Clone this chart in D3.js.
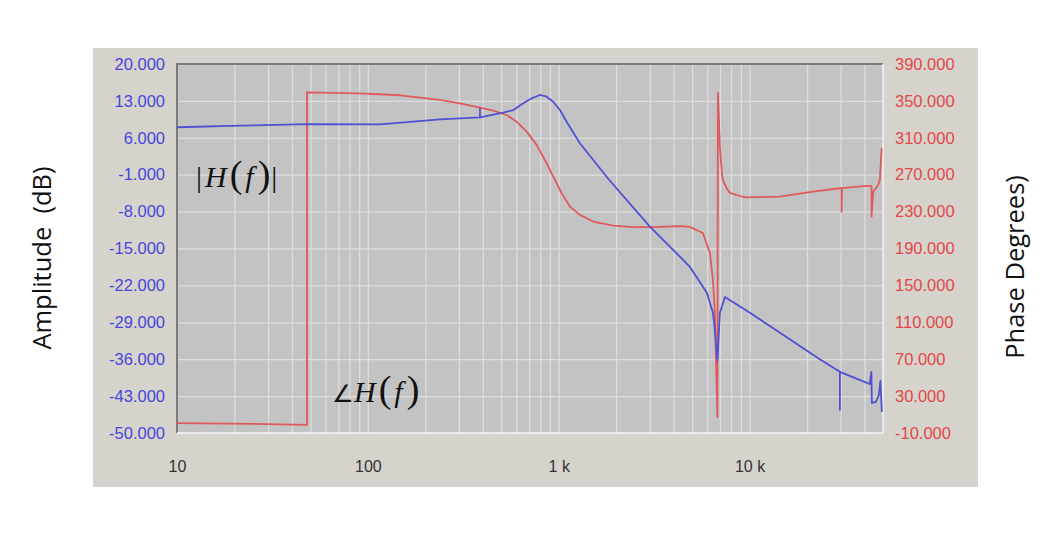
<!DOCTYPE html>
<html>
<head>
<meta charset="utf-8">
<script src="https://cdn.jsdelivr.net/npm/d3@7"></script>
<style>
  html, body { margin: 0; padding: 0; background: #fff; }
  svg { display: block; }
</style>
</head>
<body>
<script>
// amplitude |H(f)| in dB
const ampF = [10, 21.4, 48, 115.7, 238.6, 386.7, 386.7, 386.7, 512, 578, 652, 721, 797, 864, 936, 1015, 1100, 1291,
  1840, 3004, 4314, 4866, 5974, 6426, 6580, 6742, 6780, 6989, 7424, 10040, 13240, 18340, 23330,
  29720, 29720, 29720, 41170, 42660, 43450, 43720, 45890, 47570, 48450, 49330];
const ampDb = [8.0, 8.3, 8.6, 8.56, 9.5, 9.89, 11.6, 9.89, 10.76, 11.27, 12.54, 13.49, 14.12, 13.8, 12.85, 11.27, 9.05, 4.96,
  -2.0, -10.86, -16.56, -18.5, -23.4, -27.2, -30.5, -35.6, -36.2, -27.2, -24.2, -27.2, -30.1, -33.5, -36.0,
  -38.4, -45.6, -38.4, -40.5, -40.7, -38.4, -44.3, -44.1, -42.8, -40.1, -46.0];

// phase of H(f) in degrees
const phaseF = [10, 25, 48, 48, 87.7, 115.7, 147.2, 187.5, 238.6, 303.8, 386.7, 453.9, 533.6, 601.9, 678.8, 766,
  864.3, 935.8, 1036, 1145, 1291, 1516, 1931, 2457, 3126, 4314, 4866, 5692, 6197, 6426, 6580, 6781, 6823,
  6989, 7161, 7246, 7603, 7885, 8897, 9645, 14410, 21540, 29720, 30340, 30340, 30500,
  41020, 43560, 43560, 44410, 47180, 48150, 49150];
const phaseDeg = [0.8, 0, -1.3, 359.3, 358.2, 357.2, 356.1, 353.5, 351, 347.4, 342.6, 339.4, 334.7, 327.5, 316.7, 302.3,
  282.4, 267.9, 249.9, 235.4, 226.4, 219.2, 214.8, 213.1, 213.1, 214.2, 213.4, 206.8, 185, 155.9, 120, 7.3, 358.6,
  300, 271.8, 264.3, 255, 250.2, 246.9, 245.5, 246.2, 251.6, 255.3, 255.3, 229.9, 255.4,
  257.8, 257.8, 224.5, 251.6, 258.8, 264.3, 298.6];

const dbTicks = [20, 13, 6, -1, -8, -15, -22, -29, -36, -43, -50];
const degTicks = [390, 350, 310, 270, 230, 190, 150, 110, 70, 30, -10];
const freqTicks = [10, 100, 1000, 10000];
const freqLabels = ["10", "100", "1 k", "10 k"];

const W = 1050, H = 548;
const plot = { left: 177, right: 883, top: 64, bottom: 433 };

const svg = d3.select("body").append("svg")
  .attr("width", W).attr("height", H)
  .attr("viewBox", [0, 0, W, H]);

// outer panel
svg.append("rect")
  .attr("x", 93).attr("y", 48)
  .attr("width", 885).attr("height", 439)
  .attr("fill", "#d6d3cd");

const x = d3.scaleLog().domain([10, 50000]).range([plot.left, plot.right]);
const yL = d3.scaleLinear().domain([-50, 20]).range([plot.bottom, plot.top]);
const yR = d3.scaleLinear().domain([-10, 390]).range([plot.bottom, plot.top]);

svg.append("rect")
  .attr("x", plot.left).attr("y", plot.top)
  .attr("width", plot.right - plot.left).attr("height", plot.bottom - plot.top)
  .attr("fill", "#c3c3c3");

// grid: every 1..9 in each decade
let minor = [];
for (let d = 10; d < 50000; d *= 10)
  for (let k = 1; k < 10; k++) if (d * k <= 50000) minor.push(d * k);

svg.append("g")
  .attr("transform", `translate(0,${plot.bottom})`)
  .call(d3.axisBottom(x).tickValues(minor).tickSize(-(plot.bottom - plot.top)).tickFormat(""))
  .call(g => g.select(".domain").remove())
  .call(g => g.selectAll("line").attr("stroke", "#dddddd").attr("stroke-width", 1.3));

svg.append("g")
  .attr("transform", `translate(${plot.left},0)`)
  .call(d3.axisLeft(yL).tickValues(dbTicks).tickSize(-(plot.right - plot.left)).tickFormat(""))
  .call(g => g.select(".domain").remove())
  .call(g => g.selectAll("line").attr("stroke", "#dddddd").attr("stroke-width", 1.3));

// sunken border
svg.append("path")
  .attr("d", `M${plot.left},${plot.bottom}V${plot.top}H${plot.right}`)
  .attr("fill", "none").attr("stroke", "#7a7a7a").attr("stroke-width", 2);
svg.append("path")
  .attr("d", `M${plot.right},${plot.top}V${plot.bottom}H${plot.left}`)
  .attr("fill", "none").attr("stroke", "#f2f2f2").attr("stroke-width", 1.5);

// axes labels
const tickFont = "'Liberation Sans', Arial, sans-serif";
const fmt = d => d.toFixed(3);

svg.append("g")
  .attr("transform", `translate(${plot.left},0)`)
  .call(d3.axisLeft(yL).tickValues(dbTicks).tickSize(0).tickPadding(12).tickFormat(fmt))
  .call(g => g.select(".domain").remove())
  .call(g => g.selectAll("text")
    .attr("fill", "#4646dc").style("font-family", tickFont).style("font-size", "16.5px"));

svg.append("g")
  .attr("transform", `translate(${plot.right},0)`)
  .call(d3.axisRight(yR).tickValues(degTicks).tickSize(0).tickPadding(12).tickFormat(fmt))
  .call(g => g.select(".domain").remove())
  .call(g => g.selectAll("text")
    .attr("fill", "#e24848").style("font-family", tickFont).style("font-size", "16.5px"));

svg.append("g")
  .attr("transform", `translate(0,${plot.bottom})`)
  .call(d3.axisBottom(x).tickValues(freqTicks).tickSize(0).tickPadding(28)
    .tickFormat((d, i) => freqLabels[i]))
  .call(g => g.select(".domain").remove())
  .call(g => g.selectAll("text")
    .attr("fill", "#333").style("font-family", tickFont).style("font-size", "16px"));

// curves
svg.append("clipPath").attr("id", "clip")
  .append("rect")
  .attr("x", plot.left).attr("y", plot.top)
  .attr("width", plot.right - plot.left).attr("height", plot.bottom - plot.top);

const plotArea = svg.append("g").attr("clip-path", "url(#clip)");

const phaseLine = d3.line()
  .x((d, i) => x(phaseF[i]))
  .y(d => yR(d));
const ampLine = d3.line()
  .x((d, i) => x(ampF[i]))
  .y(d => yL(d));

plotArea.append("path")
  .datum(phaseDeg)
  .attr("d", phaseLine)
  .attr("fill", "none")
  .attr("stroke", "#e05a5d")
  .attr("stroke-width", 1.8)
  .attr("stroke-linejoin", "round");

plotArea.append("path")
  .datum(ampDb)
  .attr("d", ampLine)
  .attr("fill", "none")
  .attr("stroke", "#5050d4")
  .attr("stroke-width", 1.8)
  .attr("stroke-linejoin", "round");

// formula annotations
const serif = "'Liberation Serif', 'Times New Roman', serif";
const mag = svg.append("text")
  .attr("x", 196).attr("y", 187)
  .style("font-family", serif).style("font-size", "30px").attr("fill", "#111");
mag.append("tspan").text("|");
mag.append("tspan").attr("dx", 3).style("font-style", "italic").text("H");
mag.append("tspan").attr("dx", 3).style("font-size", "38px").text("(");
mag.append("tspan").attr("dx", 3).style("font-style", "italic").text("f");
mag.append("tspan").attr("dx", 4).style("font-size", "38px").text(")");
mag.append("tspan").attr("dx", 1).text("|");

const ang = svg.append("text")
  .attr("x", 332).attr("y", 402)
  .style("font-family", serif).style("font-size", "30px").attr("fill", "#111");
ang.append("tspan").style("font-size", "24px").text("\u2220");
ang.append("tspan").style("font-style", "italic").text("H");
ang.append("tspan").attr("dx", 3).style("font-size", "38px").text("(");
ang.append("tspan").attr("dx", 3).style("font-style", "italic").text("f");
ang.append("tspan").attr("dx", 4).style("font-size", "38px").text(")");

// side titles
const titleFont = "'Open Sans', 'Noto Sans', sans-serif";
svg.append("text")
  .attr("transform", "translate(51,258) rotate(-90)")
  .attr("text-anchor", "middle")
  .style("white-space", "pre")
  .style("font-family", titleFont).style("font-size", "25.5px").attr("fill", "#111")
  .text("Amplitude  (dB)");

svg.append("text")
  .attr("transform", "translate(1024,267) rotate(-90)")
  .attr("text-anchor", "middle")
  .style("font-family", titleFont).style("font-size", "25.5px").attr("fill", "#111")
  .text("Phase Degrees)");
</script>
</body>
</html>
